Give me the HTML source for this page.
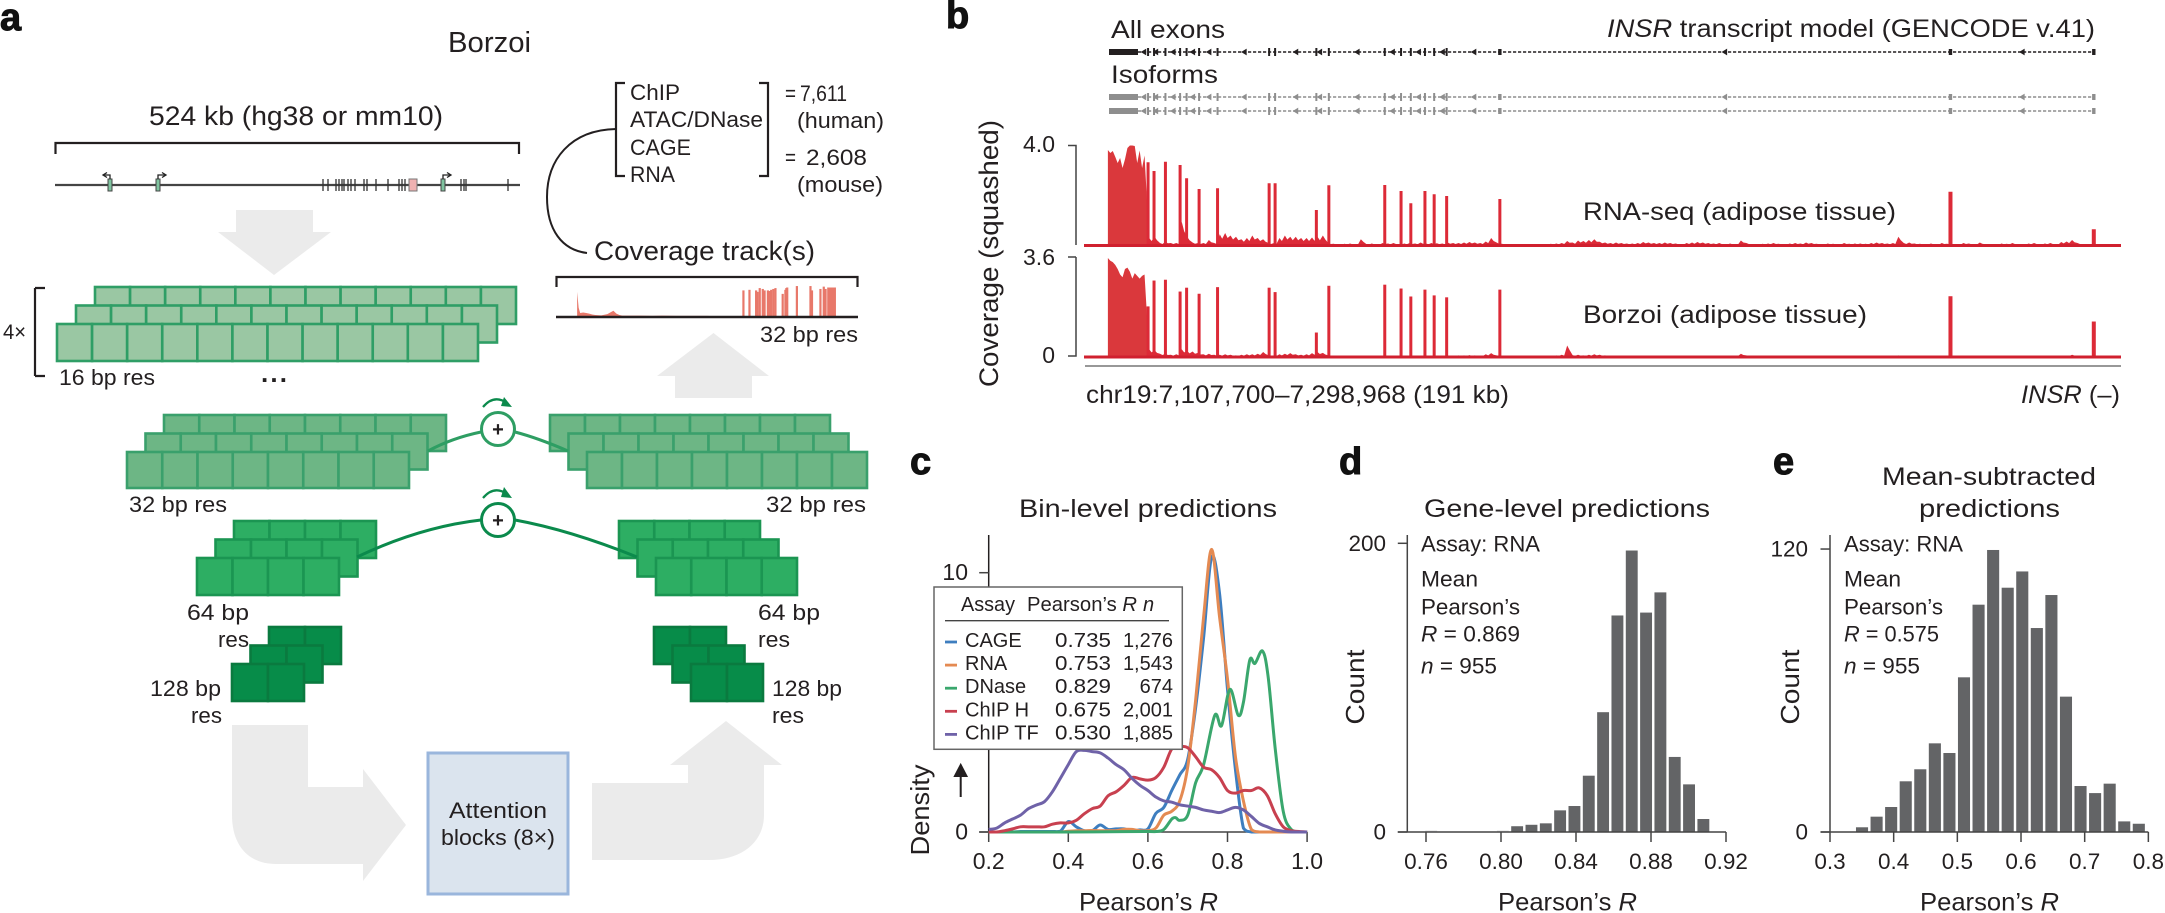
<!DOCTYPE html>
<html lang="en">
<head>
<meta charset="utf-8">
<title>Borzoi architecture and performance figure</title>
<style>
html,body{margin:0;padding:0;background:#fff;}
svg{display:block;}
text{font-family:"Liberation Sans",sans-serif;fill:#231f20;}
.lab{font-weight:bold;font-size:38px;fill:#111;stroke:#111;stroke-width:1;}
</style>
</head>
<body>
<svg id="figure" xmlns="http://www.w3.org/2000/svg" width="2165" height="913" viewBox="0 0 2165 913">
<g id="panel-a">
  <text class="lab" x="0" y="30">a</text>
  <text x="448" y="52" font-size="29" textLength="83" lengthAdjust="spacingAndGlyphs">Borzoi</text>
  <text x="149" y="125" font-size="27" textLength="294" lengthAdjust="spacingAndGlyphs">524 kb (hg38 or mm10)</text>
  <path d="M55.5 154V143H519V154" fill="none" stroke="#231f20" stroke-width="2.2"/>
  <line x1="55" y1="185" x2="520" y2="185" stroke="#444" stroke-width="2.2"/>
  <g id="genome-exons"></g>
  <rect x="108" y="179" width="4" height="12" fill="#7fc4a0" stroke="#444" stroke-width="1"/>
  <rect x="156" y="179" width="4" height="12" fill="#7fc4a0" stroke="#444" stroke-width="1"/>
  <rect x="441" y="179" width="4" height="12" fill="#7fc4a0" stroke="#444" stroke-width="1"/>
  <rect x="409" y="179" width="8" height="12" fill="#efb1b1" stroke="#777" stroke-width="1"/>
  <path d="M110 179V175H104M107 172.500L103 175L107 177.500" fill="none" stroke="#222" stroke-width="1.300"/>
  <path d="M158 179V175H165M162 172.500L166 175L162 177.500" fill="none" stroke="#222" stroke-width="1.300"/>
  <path d="M443 179V175H450M447 172.500L451 175L447 177.500" fill="none" stroke="#222" stroke-width="1.300"/>
  <polygon points="236,210 313,210 313,232 331,232 274,275 218,232 236,232" fill="#ebebeb"/>
  <polygon points="675,398 752,398 752,376 769,376 713.500,333 657,376 675,376" fill="#ebebeb"/>
  <path d="M232 725H308V787H363V769L406 825L363 881V864H276C248 864 232 845 232 815Z" fill="#ebebeb"/>
  <path d="M592 783H688V765H670L726 721L782 765H764V815C764 842 742 860 709 860H592Z" fill="#ebebeb"/>
  <path d="M35 288H45M35 288V376M35 376H45" fill="none" stroke="#231f20" stroke-width="2.200"/>
  <text x="3" y="339" font-size="21" textLength="23" lengthAdjust="spacingAndGlyphs">4×</text>
  <text x="59" y="385" font-size="22" textLength="96" lengthAdjust="spacingAndGlyphs">16 bp res</text>
  <text x="261" y="382" font-size="26" font-weight="bold" textLength="26">...</text>
  <g id="stacks"></g>
  <path d="M428 451Q452 438 481 432" fill="none" stroke="#2e9e63" stroke-width="3"/>
  <path d="M515 432Q538 438 568 451" fill="none" stroke="#2e9e63" stroke-width="3"/>
  <path d="M357 557Q420 527 481 520" fill="none" stroke="#0b8a4c" stroke-width="3"/>
  <path d="M515 520Q570 530 637 557" fill="none" stroke="#0b8a4c" stroke-width="3"/>
  <circle cx="498" cy="429" r="16.500" fill="#fff" stroke="#2e9e63" stroke-width="3"/>
  <text x="498" y="436" font-size="20" font-weight="bold" text-anchor="middle">+</text>
  <path d="M483 407Q494 394 507 403" fill="none" stroke="#0b8a4c" stroke-width="2.200"/>
  <polygon points="504,397 512,407 501,406" fill="#0b8a4c"/>
  <circle cx="498" cy="520" r="16.500" fill="#fff" stroke="#0b8a4c" stroke-width="3"/>
  <text x="498" y="527" font-size="20" font-weight="bold" text-anchor="middle">+</text>
  <path d="M483 498Q494 485 507 494" fill="none" stroke="#0b8a4c" stroke-width="2.200"/>
  <polygon points="504,487 512,498 501,497" fill="#0b8a4c"/>
  <text x="129" y="512" font-size="22" textLength="98" lengthAdjust="spacingAndGlyphs">32 bp res</text>
  <text x="766" y="512" font-size="22" textLength="100" lengthAdjust="spacingAndGlyphs">32 bp res</text>
  <text x="187" y="620" font-size="22" textLength="62" lengthAdjust="spacingAndGlyphs">64 bp</text>
  <text x="218" y="647" font-size="22" textLength="31" lengthAdjust="spacingAndGlyphs">res</text>
  <text x="758" y="620" font-size="22" textLength="62" lengthAdjust="spacingAndGlyphs">64 bp</text>
  <text x="758" y="647" font-size="22" textLength="32" lengthAdjust="spacingAndGlyphs">res</text>
  <text x="150" y="696" font-size="22" textLength="71" lengthAdjust="spacingAndGlyphs">128 bp</text>
  <text x="191" y="723" font-size="22" textLength="31" lengthAdjust="spacingAndGlyphs">res</text>
  <text x="772" y="696" font-size="22" textLength="70" lengthAdjust="spacingAndGlyphs">128 bp</text>
  <text x="772" y="723" font-size="22" textLength="32" lengthAdjust="spacingAndGlyphs">res</text>
  <rect x="428" y="753" width="140" height="141" fill="#dbe4ee" stroke="#9ab6dc" stroke-width="3"/>
  <text x="449" y="818" font-size="22" textLength="98" lengthAdjust="spacingAndGlyphs">Attention</text>
  <text x="441" y="845" font-size="22" textLength="114" lengthAdjust="spacingAndGlyphs">blocks (8×)</text>
  <path d="M625 83H616V176H625" fill="none" stroke="#231f20" stroke-width="2.200"/>
  <path d="M759 83H768V176H759" fill="none" stroke="#231f20" stroke-width="2.200"/>
  <text x="630" y="100" font-size="22" textLength="50" lengthAdjust="spacingAndGlyphs">ChIP</text>
  <text x="630" y="127" font-size="22" textLength="133" lengthAdjust="spacingAndGlyphs">ATAC/DNase</text>
  <text x="630" y="155" font-size="22" textLength="61" lengthAdjust="spacingAndGlyphs">CAGE</text>
  <text x="630" y="182" font-size="22" textLength="45" lengthAdjust="spacingAndGlyphs">RNA</text>
  <text x="785" y="101" font-size="22" textLength="11" lengthAdjust="spacingAndGlyphs">=</text>
  <text x="800" y="101" font-size="22" textLength="47" lengthAdjust="spacingAndGlyphs">7,611</text>
  <text x="797" y="128" font-size="22" textLength="87" lengthAdjust="spacingAndGlyphs">(human)</text>
  <text x="785" y="165" font-size="22" textLength="11" lengthAdjust="spacingAndGlyphs">=</text>
  <text x="806" y="165" font-size="22" textLength="61" lengthAdjust="spacingAndGlyphs">2,608</text>
  <text x="797" y="192" font-size="22" textLength="86" lengthAdjust="spacingAndGlyphs">(mouse)</text>
  <path d="M616 129C570 130 547 160 547 197C547 230 562 250 587 253" fill="none" stroke="#231f20" stroke-width="2"/>
  <text x="594" y="260" font-size="27" textLength="221" lengthAdjust="spacingAndGlyphs">Coverage track(s)</text>
  <path d="M556.500 287V277H857.500V287" fill="none" stroke="#231f20" stroke-width="2.200"/>
  <g id="mini-track"></g>
  <line x1="556" y1="317" x2="858" y2="317" stroke="#231f20" stroke-width="2.400"/>
  <text x="760" y="342" font-size="22" textLength="98" lengthAdjust="spacingAndGlyphs">32 bp res</text>
</g>
<g id="panel-b">
  <text class="lab" x="946" y="28">b</text>
  <text x="1111" y="38" font-size="25" textLength="114" lengthAdjust="spacingAndGlyphs">All exons</text>
  <text x="1111" y="83" font-size="25" textLength="107" lengthAdjust="spacingAndGlyphs">Isoforms</text>
  <text x="1607" y="37" font-size="25" textLength="488" lengthAdjust="spacingAndGlyphs"><tspan font-style="italic">INSR</tspan> transcript model (GENCODE v.41)</text>
  <g id="gene-models"></g>
  <g id="coverage-tracks"></g>
  <path d="M1068 145.500H1076V245M1076 257V356H1068M1068 257H1076" fill="none" stroke="#444" stroke-width="1.500"/>
  <text x="1055" y="152" font-size="23" text-anchor="end">4.0</text>
  <text x="1055" y="265" font-size="23" text-anchor="end">3.6</text>
  <text x="1055" y="363" font-size="23" text-anchor="end">0</text>
  <text transform="translate(998 253.500) rotate(-90)" font-size="27" text-anchor="middle" textLength="267" lengthAdjust="spacingAndGlyphs">Coverage (squashed)</text>
  <text x="1583" y="220" font-size="25" textLength="313" lengthAdjust="spacingAndGlyphs">RNA-seq (adipose tissue)</text>
  <text x="1583" y="323" font-size="25" textLength="284" lengthAdjust="spacingAndGlyphs">Borzoi (adipose tissue)</text>
  <line x1="1085" y1="366" x2="2121" y2="366" stroke="#777" stroke-width="1.500"/>
  <text x="1086" y="403" font-size="25" textLength="423" lengthAdjust="spacingAndGlyphs">chr19:7,107,700–7,298,968 (191 kb)</text>
  <text x="2021" y="403" font-size="25" textLength="99" lengthAdjust="spacingAndGlyphs"><tspan font-style="italic">INSR</tspan> (–)</text>
</g>
<g id="panel-c">
  <text class="lab" x="910" y="474">c</text>
  <text x="1019" y="517" font-size="25" textLength="258" lengthAdjust="spacingAndGlyphs">Bin-level predictions</text>
  <g id="density-chart"></g>
  <text transform="translate(929 810) rotate(-90)" font-size="26" text-anchor="middle" textLength="91" lengthAdjust="spacingAndGlyphs">Density</text>
  <path d="M960.700 797V770M955 776L960.700 765L966.400 776Z" fill="#231f20" stroke="#231f20" stroke-width="2"/>
  <text x="1079" y="910.500" font-size="25" textLength="139" lengthAdjust="spacingAndGlyphs">Pearson’s <tspan font-style="italic">R</tspan></text>
</g>
<g id="panel-d">
  <text class="lab" x="1339" y="474">d</text>
  <text x="1424" y="517" font-size="25" textLength="286" lengthAdjust="spacingAndGlyphs">Gene-level predictions</text>
  <g id="hist-d"></g>
  <text transform="translate(1364 687) rotate(-90)" font-size="26" text-anchor="middle" textLength="75" lengthAdjust="spacingAndGlyphs">Count</text>
  <text x="1498" y="910.500" font-size="25" textLength="139" lengthAdjust="spacingAndGlyphs">Pearson’s <tspan font-style="italic">R</tspan></text>
  <text x="1421" y="551.500" font-size="22" textLength="119" lengthAdjust="spacingAndGlyphs">Assay: RNA</text>
  <text x="1421" y="586.500" font-size="22" textLength="57" lengthAdjust="spacingAndGlyphs">Mean</text>
  <text x="1421" y="614.500" font-size="22" textLength="99" lengthAdjust="spacingAndGlyphs">Pearson’s</text>
  <text x="1421" y="641.500" font-size="22" textLength="99" lengthAdjust="spacingAndGlyphs"><tspan font-style="italic">R</tspan> = 0.869</text>
  <text x="1421" y="673.500" font-size="22" textLength="76" lengthAdjust="spacingAndGlyphs"><tspan font-style="italic">n</tspan> = 955</text>
</g>
<g id="panel-e">
  <text class="lab" x="1773" y="474">e</text>
  <text x="1882" y="485" font-size="25" textLength="214" lengthAdjust="spacingAndGlyphs">Mean-subtracted</text>
  <text x="1919" y="517" font-size="25" textLength="141" lengthAdjust="spacingAndGlyphs">predictions</text>
  <g id="hist-e"></g>
  <text transform="translate(1799 687) rotate(-90)" font-size="26" text-anchor="middle" textLength="75" lengthAdjust="spacingAndGlyphs">Count</text>
  <text x="1920" y="910.500" font-size="25" textLength="139" lengthAdjust="spacingAndGlyphs">Pearson’s <tspan font-style="italic">R</tspan></text>
  <text x="1844" y="551.500" font-size="22" textLength="119" lengthAdjust="spacingAndGlyphs">Assay: RNA</text>
  <text x="1844" y="586.500" font-size="22" textLength="57" lengthAdjust="spacingAndGlyphs">Mean</text>
  <text x="1844" y="614.500" font-size="22" textLength="99" lengthAdjust="spacingAndGlyphs">Pearson’s</text>
  <text x="1844" y="641.500" font-size="22" textLength="95" lengthAdjust="spacingAndGlyphs"><tspan font-style="italic">R</tspan> = 0.575</text>
  <text x="1844" y="673.500" font-size="22" textLength="76" lengthAdjust="spacingAndGlyphs"><tspan font-style="italic">n</tspan> = 955</text>
</g>
</svg>
<script>
/* ---------- chart data ---------- */
const exonKb = [11.8,12.9,15.0,17.7,18.9,21.2,24.6,34.1,35.2,42.8,45.1,55.4,58.4,60.2,62.8,64.5,66.8,76.6,159.6,186.0];
const rnaExonCoverage = [3.33,2.98,3.35,3.22,2.69,2.26,2.29,2.49,2.49,1.42,2.41,2.42,2.18,1.69,2.18,2.05,1.98,1.86,2.15,0.65];
const borzoiExonCoverage = [1.84,2.78,2.81,2.38,2.52,2.30,2.54,2.52,2.36,0.89,2.59,2.63,2.49,2.20,2.45,2.24,2.17,2.45,2.21,1.29];
const utrStartKb = 4.4;
const utrBinKb = 0.45;
const rnaUtrCoverage = [3.82,3.7,3.78,3.55,3.3,3.5,3.1,3.45,3.9,4.0,4.0,3.98,3.3,3.8,3.1,3.6];
const borzoiUtrCoverage = [3.6,3.5,3.45,3.35,3.2,3.0,2.9,3.2,3.25,3.1,2.85,3.05,2.95,2.85,2.95,3.0];
const rnaBackground = [.03,.03,.03,.04,.03,.03,.03,.03,.03,.03,.25,.12,.3,.35,.1,.15,.1,.1,.95,.35,.12,.1,.1,.22,.1,.45,.5,.4,.35,.25,.3,.4,.3,.25,.1,.1,.3,.4,.35,.35,.3,.3,.32,.35,.4,.1,.07,.05,.07,.08,.06,.25,.06,.08,.06,.1,.08,.1,.06,.08,.1,.08,.12,.08,.1,.09,.08,.12,.1,.1,.12,.14,.12,.1,.16,.3,.12,.07,.05,.06,.05,.05,.06,.05,.06,.06,.07,.08,.1,.18,.12,.2,.18,.22,.25,.15,.12,.1,.12,.1,.08,.08,.1,.14,.12,.1,.1,.12,.1,.08,.06,.1,.12,.14,.12,.1,.08,.1,.06,.08,.06,.2,.1,.06,.05,.07,.08,.1,.07,.06,.08,.1,.08,.12,.1,.07,.06,.08,.07,.06,.1,.07,.08,.08,.07,.1,.12,.1,.08,.1,.35,.1,.12,.08,.07,.06,.08,.05,.1,.07,.05,.06,.1,.08,.06,.12,.05,.06,.04,.08,.07,.1,.06,.05,.08,.1,.06,.08,.1,.06,.14,.16,.22,.1,.05,.04,.04,.03,.03,.03,.03];
const borzoiBackground = [.02,.02,.02,.03,.02,.02,.02,.02,.02,.02,.12,.08,.28,.25,.12,.12,.08,.1,.28,.22,.2,.15,.1,.12,.08,.08,.1,.08,.06,.08,.1,.1,.12,.18,.06,.06,.1,.12,.14,.1,.08,.1,.14,.18,.15,.06,.04,.03,.04,.04,.03,.05,.05,.04,.05,.04,.05,.05,.04,.05,.05,.05,.05,.04,.05,.05,.05,.06,.05,.06,.06,.07,.06,.05,.1,.14,.06,.04,.03,.03,.03,.03,.03,.03,.04,.04,.05,.06,.08,.42,.07,.08,.06,.08,.1,.08,.06,.05,.05,.04,.04,.04,.05,.04,.05,.04,.04,.05,.05,.04,.03,.03,.04,.05,.04,.03,.03,.04,.04,.04,.05,.12,.06,.04,.03,.03,.04,.03,.03,.03,.04,.03,.03,.04,.03,.03,.03,.03,.03,.03,.03,.03,.03,.03,.03,.03,.03,.03,.03,.03,.06,.03,.03,.03,.03,.03,.03,.03,.03,.03,.03,.03,.03,.03,.03,.03,.03,.03,.03,.03,.03,.03,.03,.03,.03,.03,.03,.03,.03,.03,.04,.05,.08,.04,.03,.03,.03,.03,.03,.03,.03];
const intronArrowKb = [11,13.2,16.4,20,23,29.5,39,43.4,50.3,56.8,61.6,66,71.8,118,172.8];
const densityGrid = [.20,.22,.24,.26,.28,.30,.32,.34,.36,.38,.40,.42,.44,.46,.48,.50,.52,.54,.56,.58,.60,.62,.64,.66,.68,.70,.72,.74,.76,.78,.80,.82,.84,.86,.88,.90,.92,.94,.96,.98,1.0];
const dnaseGrid = [.20,.30,.40,.50,.60,.62,.64,.66,.67,.68,.70,.72,.74,.768,.785,.806,.827,.84,.856,.869,.888,.902,.92,.94,.96,.98,1.0];
const cageDensity = [0,0,0,0,.02,.02,.02,.02,.02,.03,.4,.2,.05,.05,.27,.1,.12,.12,.05,.08,.12,.72,.95,1.6,2.2,2.8,4.8,7.5,10.6,9.2,5.5,2.4,.15,0,0,0,0,0,0,0,0];
const rnaDensity = [0,0,0,0,0,0,0,0,0,0,.03,.05,.05,.06,.05,.05,.05,.1,.1,.05,.05,.15,.65,.8,1.2,2.5,5.1,8.3,10.9,8.3,5.9,2.9,1.2,.1,0,0,0,0,0,0,0];
const dnaseDensity = [0,0,0,.01,.02,.02,.1,.5,.55,.45,.65,1.9,2.6,4.5,4.1,5.5,4.5,5.0,6.63,6.5,6.98,6.0,3.2,.8,.1,0,0];
const chipHDensity = [0,0,.05,.12,.2,.2,.2,.2,.3,.35,.35,.45,.7,.9,1.0,1.4,1.55,1.8,2.1,2.05,2.0,2.1,2.5,3.2,3.3,3.25,2.9,2.5,2.4,2.1,1.6,1.5,1.6,1.6,1.7,1.4,.7,.2,.05,.02,0];
const chipTfDensity = [.1,.15,.35,.5,.65,.9,1.04,1.17,1.55,2.07,2.6,3.1,3.15,3.1,3.05,2.85,2.6,2.4,2.07,1.8,1.6,1.35,1.2,1.15,1.05,1.0,.95,.85,.8,.75,.85,.95,.85,.6,.33,.2,.08,.03,0,0,0];
const assayNames = ['CAGE','RNA','DNase','ChIP H','ChIP TF'];
const assayPearson = ['0.735','0.753','0.829','0.675','0.530'];
const assayCounts = ['1,276','1,543','674','2,001','1,885'];
const densityXTicks = [0.2,0.4,0.6,0.8,1.0];
const densityYTicks = [0,10];
const geneBinCounts = [1,0,0,0,0,1,4,5,6,15,18,39,83,150,195,152,166,52,33,9];
const geneBinStart = 0.7596;
const geneBinWidth = 0.00764;
const geneXTicks = [0.76,0.80,0.84,0.88,0.92];
const geneYTicks = [0,200];
const meanBinCounts = [2,6.5,10.6,21.5,26.6,37.6,33.5,65.6,96.4,119.6,103.6,110.5,86.5,100.5,57.4,19.5,16.5,20.5,4.5,3.5];
const meanBinStart = 0.3408;
const meanBinWidth = 0.02288;
const meanXTicks = [0.3,0.4,0.5,0.6,0.7,0.8];
const meanYTicks = [0,120];
const miniSpikePct = [61.7,63.7,65.9,66.4,67.1,68.1,68.7,69.8,70.4,70.9,71.6,72.3,74.7,75.6,75.9,76.2,79.4,83.9,84.4,87.2,88.3,88.9];
const miniSpikeLevel = [.9,.92,.9,.85,.98,.95,.9,.9,.88,.92,.95,.98,.78,.92,.98,1,1.05,1.05,.9,.95,1.03,.95];
const miniLowPct = [7,7.5,8,9,10,11,12,13,15,17,19,20,21,22,25,28,32,35,40,45,50,53];
const miniLowLevel = [.85,.3,.12,.14,.12,.1,.07,.05,.04,.08,.2,.1,.05,.03,.03,.03,.02,.03,.02,.02,.02,.01];
const genomeExonPos = [323,328,336,339,342,344,348,351,355,364,367,376,388,399,402,405,461,464,466,508];

/* ---------- helpers ---------- */
const NS = 'http://www.w3.org/2000/svg';
function make(tag, attrs, parent){
  const node = document.createElementNS(NS, tag);
  for (const k in attrs) node.setAttribute(k, attrs[k]);
  parent.appendChild(node);
  return node;
}
function byId(id){ return document.getElementById(id); }

/* ---------- panel a: genome exons ---------- */
(function(){
  const g = byId('genome-exons');
  genomeExonPos.forEach(function(x){
    const tick = make('line',{x1:x,x2:x,y1:179,y2:191,stroke:'#333','stroke-width':1.3},g);
    
    
  });
})();

/* ---------- panel a: convolution stacks ---------- */
const stackShapes = [
  {id:'stack-16',x:57,y:324,w:421,h:37,n:12,dx:19,dy:-18.5,fill:'#9ac7a3',stroke:'#2f9e66'},
  {id:'stack-32-left',x:127,y:452,w:282,h:36,n:8,dx:18.5,dy:-18.5,fill:'#6db685',stroke:'#3aa06c'},
  {id:'stack-32-right',x:587,y:452,w:280,h:36,n:8,dx:-18.5,dy:-18.5,fill:'#6db685',stroke:'#3aa06c'},
  {id:'stack-64-left',x:197,y:558,w:142,h:37,n:4,dx:18.5,dy:-18.5,fill:'#2dae63',stroke:'#1b9552'},
  {id:'stack-64-right',x:656,y:558,w:141,h:37,n:4,dx:-18.5,dy:-18.5,fill:'#2dae63',stroke:'#1b9552'},
  {id:'stack-128-left',x:232,y:664,w:72,h:37,n:2,dx:18.5,dy:-18.5,fill:'#078c49',stroke:'#0a7a3f'},
  {id:'stack-128-right',x:691,y:664,w:72,h:37,n:2,dx:-18.5,dy:-18.5,fill:'#078c49',stroke:'#0a7a3f'}
];
(function(){
  const host = byId('stacks');
  stackShapes.forEach(function(s){
    const group = make('g',{},host);
    
    
    for (let layer = 2; layer >= 0; layer--){
      const lx = s.x + s.dx*layer, ly = s.y + s.dy*layer, cw = s.w/s.n;
      for (let c = 0; c < s.n; c++){
        const cell = make('rect',{x:lx+c*cw,y:ly,width:cw,height:s.h,fill:s.fill,stroke:s.stroke,'stroke-width':2.6},group);
        
        
      }
    }
  });
})();

/* ---------- panel a: mini coverage track ---------- */
(function(){
  const g = byId('mini-track');
  const mx = p => 556 + p*3.02;
  const my = v => 316.5 - v*29;
  miniSpikePct.forEach(function(p,i){
    const bar = make('rect',{x:mx(p),y:my(miniSpikeLevel[i]),width:2.2,height:316.5-my(miniSpikeLevel[i]),fill:'#e8786a'},g);
    
    
  });
  const solid = make('rect',{x:mx(89.8),y:my(1),width:mx(92.7)-mx(89.8),height:29,fill:'#e8786a'},g);
  
  
  let d = 'M'+mx(miniLowPct[0])+' 316.5';
  miniLowPct.forEach(function(p,i){ d += 'L'+mx(p)+' '+my(miniLowLevel[i]); });
  d += 'L'+mx(miniLowPct[miniLowPct.length-1])+' 316.5Z';
  const low = make('path',{d:d,fill:'#e8786a'},g);
  
  
})();

/* ---------- panel b ---------- */
const xKb = kb => 1084 + kb*5.429;
(function(){
  const host = byId('gene-models');
  const rows = [{y:52,c:'#231f20',n:'all-exons-model'},{y:97,c:'#8e8e8e',n:'isoform-1-model'},{y:111,c:'#8e8e8e',n:'isoform-2-model'}];
  rows.forEach(function(r){
    const g = make('g',{},host);
    
    
    const line = make('line',{x1:1138,x2:xKb(186.3),y1:r.y,y2:r.y,stroke:r.c,'stroke-width':1.5,'stroke-dasharray':'3.2 1.8'},g);
    
    
    const utr = make('rect',{x:1109,y:r.y-3,width:29,height:6,fill:r.c},g);
    
    
    exonKb.forEach(function(kb){
      const big = kb > 76;
      const ex = make('rect',{x:xKb(kb)-(big?1.7:1),y:r.y-(big?3:4),width:big?3.4:2,height:big?6:8,fill:r.c},g);
      
      
    });
    intronArrowKb.forEach(function(kb){
      const x = xKb(kb);
      const ar = make('polygon',{points:(x-3)+','+r.y+' '+(x+2.5)+','+(r.y-3.4)+' '+(x+2.5)+','+(r.y+3.4),fill:r.c},g);
      
      
    });
  });

  function track(name, base, unit, bg, utr, peaks){
    const host2 = byId('coverage-tracks');
    const g = make('g',{},host2);
    
    
    const y = v => base - v*unit;
    let d = 'M'+xKb(0)+' '+base;
    bg.forEach(function(v,i){ d += 'L'+xKb(i)+' '+y(v)+'L'+xKb(i+0.45)+' '+y(v*0.6); });
    d += 'L'+xKb(bg.length)+' '+base+'Z';
    const area = make('path',{d:d,fill:'#dc2a37'},g);
    
    
    let u = 'M'+xKb(utrStartKb)+' '+base;
    utr.forEach(function(v,i){ u += 'L'+xKb(utrStartKb+i*utrBinKb)+' '+y(v); });
    u += 'L'+xKb(utrStartKb+utr.length*utrBinKb)+' '+y(utr[utr.length-1]*0.5)+'L'+xKb(utrStartKb+utr.length*utrBinKb)+' '+base+'Z';
    const block = make('path',{d:u,fill:'#da383c'},g);
    
    
    peaks.forEach(function(v,i){
      const w = exonKb[i] > 150 ? 4 : 3;
      const bar = make('rect',{x:xKb(exonKb[i])-w/2,y:y(v),width:w,height:base-y(v),fill:'#dc2a37'},g);
      
      
    });
    const bl = make('line',{x1:1084,x2:2121,y1:base,y2:base,stroke:'#d0202f','stroke-width':3},g);
    
    
  }
  track('rna-seq-track',245.5,25,rnaBackground,rnaUtrCoverage,rnaExonCoverage);
  track('borzoi-track',357,27.5,borzoiBackground,borzoiUtrCoverage,borzoiExonCoverage);
})();

/* ---------- panel c: density ---------- */
(function(){
  const g = byId('density-chart');
  const x = r => 988.7 + (r-0.2)*398;
  const y = v => 832 - v*25.93;
  const colors = ['#3e7ebf','#e48a52','#3aa76d','#c8404f','#6f62a8'];
  const series = [cageDensity,rnaDensity,dnaseDensity,chipHDensity,chipTfDensity];
  const grids = [densityGrid,densityGrid,dnaseGrid,densityGrid,densityGrid];
  const seriesNames = ['cage-density-line','rna-density-line','dnase-density-line','chip-h-density-line','chip-tf-density-line'];

  const axisY = make('line',{x1:x(.2),x2:x(.2),y1:535,y2:832,stroke:'#231f20','stroke-width':1.5},g);
  
  
  const axisX = make('line',{x1:x(.2)-9.5,x2:x(1),y1:832,y2:832,stroke:'#444','stroke-width':1.5},g);
  
  
  densityXTicks.forEach(function(t){
    const tk = make('line',{x1:x(t),x2:x(t),y1:832,y2:842,stroke:'#444','stroke-width':1.5},g);
    
    
    const lb = make('text',{x:x(t),y:869,'font-size':23,'text-anchor':'middle'},g);
    lb.textContent = t.toFixed(1);
    
    
  });
  densityYTicks.forEach(function(t){
    const tk = make('line',{x1:x(.2)-9.5,x2:x(.2),y1:y(t),y2:y(t),stroke:'#444','stroke-width':1.5},g);
    
    
    const lb = make('text',{x:968,y:y(t)+7.5,'font-size':23,'text-anchor':'end'},g);
    lb.textContent = String(t);
    
    
  });
  series.forEach(function(vals,si){
    const pts = vals.map(function(v,i){ return [x(grids[si][i]),y(v)]; });
    let d = 'M'+pts[0][0]+' '+pts[0][1];
    for (let i = 0; i < pts.length-1; i++){
      const p0 = pts[Math.max(i-1,0)], p1 = pts[i], p2 = pts[i+1], p3 = pts[Math.min(i+2,pts.length-1)];
      const c1y = Math.min(p1[1]+(p2[1]-p0[1])/6,832), c2y = Math.min(p2[1]-(p3[1]-p1[1])/6,832);
      d += 'C'+(p1[0]+(p2[0]-p0[0])/6)+' '+c1y+' '+(p2[0]-(p3[0]-p1[0])/6)+' '+c2y+' '+p2[0]+' '+p2[1];
    }
    const path = make('path',{d:d,fill:'none',stroke:colors[si],'stroke-width':3},g);
    
    
  });
  const legend = make('g',{},g);
  
  
  const box = make('rect',{x:934,y:587,width:248.3,height:162.3,fill:'#fff',stroke:'#666','stroke-width':1.5},legend);
  
  
  const head1 = make('text',{x:961,y:611,'font-size':20,textLength:54,lengthAdjust:'spacingAndGlyphs'},legend);
  head1.textContent = 'Assay';
  
  
  const head2 = make('text',{x:1027,y:611,'font-size':20,textLength:110,lengthAdjust:'spacingAndGlyphs'},legend);
  head2.textContent = 'Pearson’s ';
  const headR = make('tspan',{'font-style':'italic'},head2);
  headR.textContent = 'R';
  
  
  const head3 = make('text',{x:1143,y:611,'font-size':20,'font-style':'italic'},legend);
  head3.textContent = 'n';
  
  
  const rule = make('line',{x1:945,x2:1169,y1:620.7,y2:620.7,stroke:'#444','stroke-width':1.3},legend);
  
  
  const rowY = i => 647 + i*23.1;
  assayNames.forEach(function(name,i){
    const sw = make('line',{x1:945,x2:957,y1:rowY(i)-5,y2:rowY(i)-5,stroke:colors[i],'stroke-width':2.8},legend);
    
    
    const t1 = make('text',{x:965,y:rowY(i),'font-size':20},legend);
    t1.textContent = name;
    
    
    const t2 = make('text',{x:1055,y:rowY(i),'font-size':20,textLength:56,lengthAdjust:'spacingAndGlyphs'},legend);
    t2.textContent = assayPearson[i];
    
    
    const t3 = make('text',{x:1173,y:rowY(i),'font-size':20,'text-anchor':'end'},legend);
    t3.textContent = assayCounts[i];
    
    
  });
})();

/* ---------- panels d / e: histograms ---------- */
function histogram(hostId, counts, start, width, xTicks, yTicks, xFmt, xs, ys, axisX0, yLabelX, prefix){
  const g = byId(hostId);
  counts.forEach(function(c,i){
    const left = xs(start + i*width), right = xs(start + (i+1)*width);
    const bw = (right-left)*0.83;
    const bar = make('rect',{x:left,y:ys(c),width:bw,height:832-ys(c),fill:c < 2 && prefix === 'gene' ? '#d9d9da' : '#636466'},g);
    
    
  });
  const ay = make('line',{x1:axisX0,x2:axisX0,y1:535,y2:832,stroke:'#444','stroke-width':1.5},g);
  
  
  const ax = make('line',{x1:axisX0-9.5,x2:xs(xTicks[xTicks.length-1]),y1:832,y2:832,stroke:'#444','stroke-width':1.5},g);
  
  
  xTicks.forEach(function(t){
    const tk = make('line',{x1:xs(t),x2:xs(t),y1:832,y2:842,stroke:'#444','stroke-width':1.5},g);
    
    
    const lb = make('text',{x:xs(t),y:869,'font-size':22.5,'text-anchor':'middle'},g);
    lb.textContent = t.toFixed(xFmt);
    
    
  });
  yTicks.forEach(function(t){
    const tk = make('line',{x1:axisX0-9.5,x2:axisX0,y1:ys(t),y2:ys(t),stroke:'#444','stroke-width':1.5},g);
    
    
    const lb = make('text',{x:yLabelX,y:ys(t)+7.5,'font-size':22.5,'text-anchor':'end'},g);
    lb.textContent = String(t);
    
    
  });
}
histogram('hist-d',geneBinCounts,geneBinStart,geneBinWidth,geneXTicks,geneYTicks,2,
  r => 1426 + (r-0.76)*1875, c => 832 - c*1.4435, 1407.3, 1386, 'gene');
histogram('hist-e',meanBinCounts,meanBinStart,meanBinWidth,meanXTicks,meanYTicks,1,
  r => 1830 + (r-0.3)*636.7, c => 832 - c*2.358, 1830, 1808, 'mean');
</script>
</body>
</html>
